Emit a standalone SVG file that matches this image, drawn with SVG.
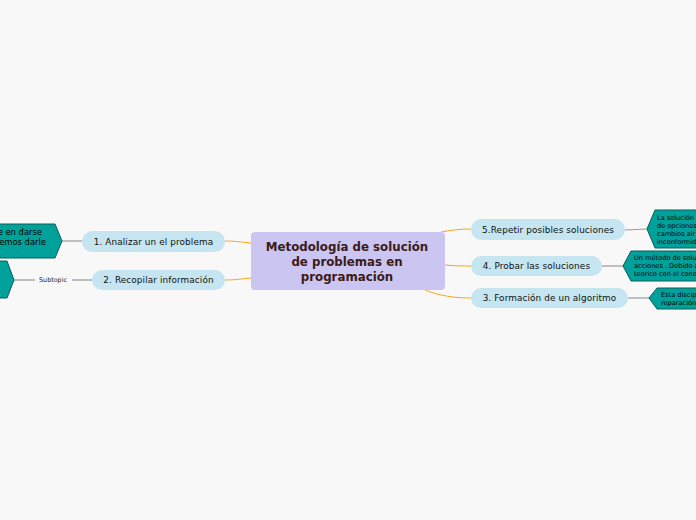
<svg xmlns="http://www.w3.org/2000/svg" width="696" height="520" viewBox="0 0 696 520">
<style>
.bg{fill:#f8f8f8}
.main{fill:#cbc5f2}
.mt{font-family:"DejaVu Sans",sans-serif;font-weight:bold;font-size:11.8px;fill:#3b1b17;text-anchor:middle}
.pill{fill:#c5e5f0}
.pt{font-family:"DejaVu Sans",sans-serif;font-size:8.9px;letter-spacing:0.1px;fill:#111;text-anchor:middle}
.hex{fill:#00a19a;stroke:#0a5e5a;stroke-width:1}
.ht{font-family:"DejaVu Sans",sans-serif;font-size:6.6px;fill:#000}
.hl{font-family:"DejaVu Sans",sans-serif;font-size:8.4px;fill:#000;text-anchor:end}
.st{font-family:"DejaVu Sans",sans-serif;font-size:6.4px;fill:#222;text-anchor:middle}
.oc{fill:none;stroke:#f5a623;stroke-width:1}
.gc{fill:none;stroke:#999;stroke-width:1.2}
</style>
<rect class="bg" width="696" height="520"/>
<g id="connectors">
<path class="oc" d="M251,243 C240,242 235,241 225,241"/>
<path class="oc" d="M251,278 C240,279 235,280 225,280"/>
<path class="oc" d="M441,232 C452,230 460,229 471,229"/>
<path class="oc" d="M445,265 C455,266 462,266 471,266"/>
<path class="oc" d="M425,290 C440,296 455,298 471,298"/>
<path class="gc" d="M62,241 L82,241"/>
<path class="gc" d="M14,280 L35,280"/>
<path class="gc" d="M72,280 L92,280"/>
<path class="gc" d="M625,230 L647,229"/>
<path class="gc" d="M602,266 L623,266"/>
<path class="gc" d="M628,298 L649,298"/>
</g>
<g id="central">
<rect class="main" x="251" y="232" width="194" height="58" rx="4"/>
<text class="mt" x="347" y="251">Metodología de solución</text>
<text class="mt" x="347" y="266">de problemas en</text>
<text class="mt" x="347" y="281">programación</text>
</g>
<g id="n1">
<rect class="pill" x="82" y="231" width="143" height="21" rx="10.5"/>
<text class="pt" x="153.5" y="244.5">1. Analizar un el problema</text>
</g>
<g id="n2">
<rect class="pill" x="92" y="270" width="133" height="20" rx="10"/>
<text class="pt" x="158.5" y="283">2. Recopilar información</text>
</g>
<g id="n5">
<rect class="pill" x="471" y="219" width="154" height="21" rx="10.5"/>
<text class="pt" x="548" y="232.5">5.Repetir posibles soluciones</text>
</g>
<g id="n4">
<rect class="pill" x="471" y="256" width="131" height="20" rx="10"/>
<text class="pt" x="536.5" y="269">4. Probar las soluciones</text>
</g>
<g id="n3">
<rect class="pill" x="471" y="288" width="157" height="20" rx="10"/>
<text class="pt" x="549.5" y="301">3. Formación de un algoritmo</text>
</g>
<g id="n1a">
<polygon class="hex" points="-10,224 55,224 62,241 55,258 -10,258"/>
<text class="hl" x="42" y="235">e en darse</text>
<text class="hl" x="46" y="245">lemos darle</text>
</g>
<g id="n2a">
<polygon class="hex" points="-10,261 7,261 14,280 7,298 -10,298"/>
</g>
<g id="subtopic">
<text class="st" x="53" y="282.3">Subtopic</text>
</g>
<g id="n5a">
<polygon class="hex" points="655,210 710,210 710,248 655,248 647,229"/>
<text class="ht" x="657" y="220">La solución</text>
<text class="ht" x="657" y="228">de opciones</text>
<text class="ht" x="657" y="236">cambios alr</text>
<text class="ht" x="657" y="244">inconformid</text>
</g>
<g id="n4a">
<polygon class="hex" points="631,251 710,251 710,281 631,281 623,266"/>
<text class="ht" x="634" y="260">Un método de solu</text>
<text class="ht" x="634" y="268">acciones . Debido a</text>
<text class="ht" x="634" y="276">teorico con el cono</text>
</g>
<g id="n3a">
<polygon class="hex" points="657,288 710,288 710,309 657,309 649,298"/>
<text class="ht" x="661" y="297">Esta discip</text>
<text class="ht" x="661" y="305">reparación</text>
</g>
</svg>
